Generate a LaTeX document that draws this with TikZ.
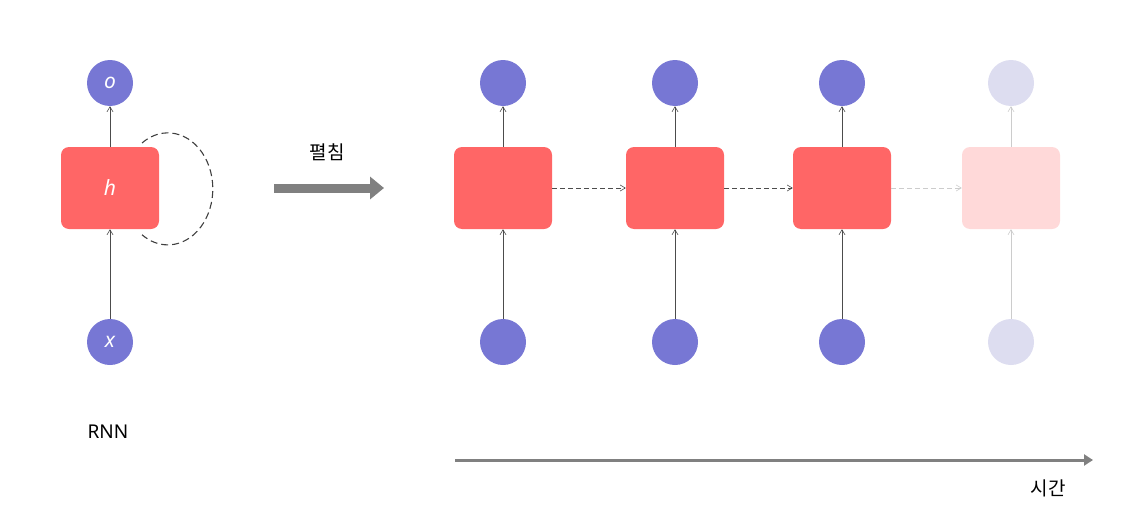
\documentclass[tikz,border=0pt]{standalone}
\usepackage{fontspec}
\setmainfont{Noto Sans}
\newfontfamily\kr{Noto Sans CJK KR}
\usetikzlibrary{arrows.meta}
\definecolor{boxred}{HTML}{FF6666}
\definecolor{boxpale}{HTML}{FFD9D9}
\definecolor{circ}{HTML}{7777D4}
\definecolor{circpale}{HTML}{DDDDF0}
\begin{document}
\begin{tikzpicture}[x=1pt,y=-1pt,
  cell/.style={fill=boxred,rounded corners=8pt,minimum width=98pt,minimum height=82pt,inner sep=0},
  palecell/.style={cell,fill=boxpale},
  dot/.style={circle,fill=circ,minimum size=46pt,inner sep=0,text=white,font=\fontsize{21}{25}\selectfont\itshape},
  paledot/.style={dot,fill=circpale},
  conn/.style={draw=black!70,-{Straight Barb[length=5pt,width=6pt]},line width=0.6pt},
  paleconn/.style={conn,draw=black!20},
  dconn/.style={conn,dash pattern=on 5pt off 3pt}]
\useasboundingbox (0,0) rectangle (1131,522);
% left
\node[dot] (o) at (110,83) {o};
\node[cell,text=white,font=\fontsize{21}{25}\selectfont\itshape] (h) at (110,188) {h};
\node[dot] (x) at (110,342) {x};
\draw[conn] (x) -- (h);
\draw[conn] (h) -- (o);
\draw[black!75,line width=1.1pt,dash pattern=on 7pt off 4pt] (142,143) arc[start angle=-125,end angle=125,x radius=45,y radius=56];
\node[font=\fontsize{19}{23}\selectfont\bfseries] (rnn) at (108,432) {RNN};
% unfold
\coordinate (ua) at (274,188);
\coordinate (ub) at (384,188);
\draw[line width=9pt,draw=black!50,-{Triangle[length=14pt,width=22pt]}] (ua) -- (ub);
\node[font=\kr\fontsize{19}{23}\selectfont] (unf) at (327,152) {펼침};
% unrolled
\foreach \i/\xx in {1/503,2/675,3/842}{
  \node[cell] (c\i) at (\xx,188) {};
  \node[dot] (t\i) at (\xx,83) {};
  \node[dot] (b\i) at (\xx,342) {};
  \draw[conn] (b\i) -- (c\i);
  \draw[conn] (c\i) -- (t\i);
}
\node[palecell] (c4) at (1011,188) {};
\node[paledot] (t4) at (1011,83) {};
\node[paledot] (b4) at (1011,342) {};
\draw[paleconn] (b4) -- (c4);
\draw[paleconn] (c4) -- (t4);
\draw[dconn] (c1) -- (c2);
\draw[dconn] (c2) -- (c3);
\draw[dconn,draw=black!20] (c3) -- (c4);
% time
\coordinate (ta) at (455,460);
\coordinate (tb) at (1093,460);
\draw[line width=3pt,draw=black!50,-{Triangle[length=9pt,width=11pt]}] (ta) -- (tb);
\node[font=\kr\fontsize{19}{23}\selectfont] (time) at (1048,488) {시간};
\end{tikzpicture}
\end{document}
